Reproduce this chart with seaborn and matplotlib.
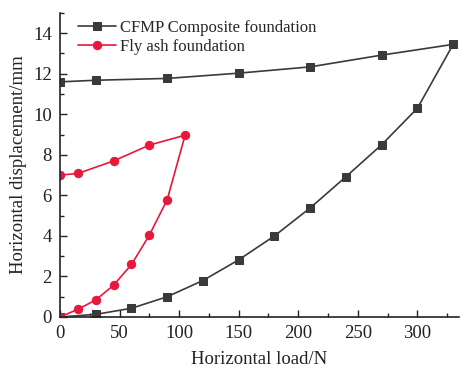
import numpy as np
import pandas as pd
import seaborn as sns
import matplotlib.pyplot as plt
from matplotlib.ticker import MultipleLocator

# CFMP composite foundation: loading then unloading
cfmp_load = [0, 30, 60, 90, 120, 150, 180, 210, 240, 270, 300, 330,
             270, 210, 150, 90, 30, 0]
cfmp_disp = [0, 0.13, 0.43, 1.0, 1.8, 2.82, 4.0, 5.38, 6.92, 8.5, 10.3, 13.45,
             12.92, 12.34, 12.03, 11.77, 11.68, 11.6]

# fly ash foundation: loading then unloading
fly_load = [0, 15, 30, 45, 60, 75, 90, 105, 75, 45, 15, 0]
fly_disp = [0, 0.38, 0.84, 1.57, 2.59, 4.04, 5.79, 8.97, 8.48, 7.7, 7.08, 7.0]

df_cfmp = pd.DataFrame({"load": cfmp_load, "disp": cfmp_disp})
df_fly = pd.DataFrame({"load": fly_load, "disp": fly_disp})

sns.set_style("ticks")
plt.rcParams['font.family'] = ['Liberation Serif', 'DejaVu Serif']

fig = plt.figure(figsize=(4.74, 3.81), dpi=100)
ax = fig.add_axes([0.1266, 0.168, 0.842, 0.798])

sns.lineplot(data=df_cfmp, x="load", y="disp", sort=False, estimator=None,
             errorbar=None, ax=ax, color="#3a3a3a", lw=1.2, marker="s",
             markersize=6, markeredgecolor="#3a3a3a",
             label="CFMP Composite foundation")
sns.lineplot(data=df_fly, x="load", y="disp", sort=False, estimator=None,
             errorbar=None, ax=ax, color="#e8183c", lw=1.2, marker="o",
             markersize=6, markeredgecolor="#e8183c",
             label="Fly ash foundation")

ax.set_xlim(0, 335)
ax.set_ylim(0, 15)
ax.set_xticks(np.arange(0, 301, 50))
ax.set_yticks(np.arange(0, 15, 2))
ax.xaxis.set_minor_locator(MultipleLocator(25))
ax.yaxis.set_minor_locator(MultipleLocator(1))
ax.tick_params(which="major", direction="in", length=5, width=1, labelsize=13.5,
               colors="#222222", pad=6)
ax.tick_params(which="minor", direction="in", length=3, width=1, colors="#222222")
for s in ["top", "right"]:
    ax.spines[s].set_visible(False)
for s in ["left", "bottom"]:
    ax.spines[s].set_linewidth(1.2)
    ax.spines[s].set_color("#222222")

ax.set_xlabel("Horizontal load/N", fontsize=13.5, color="#222222", labelpad=6)
ax.set_ylabel("Horizontal displacement/mm", fontsize=13.5, color="#222222")

leg = ax.legend(loc="upper left", bbox_to_anchor=(0.02, 1.01), frameon=False,
                fontsize=12, handlelength=2.3, handletextpad=0.2,
                labelspacing=0.2, borderaxespad=0.2)

fig.savefig("out.png", dpi=100)
